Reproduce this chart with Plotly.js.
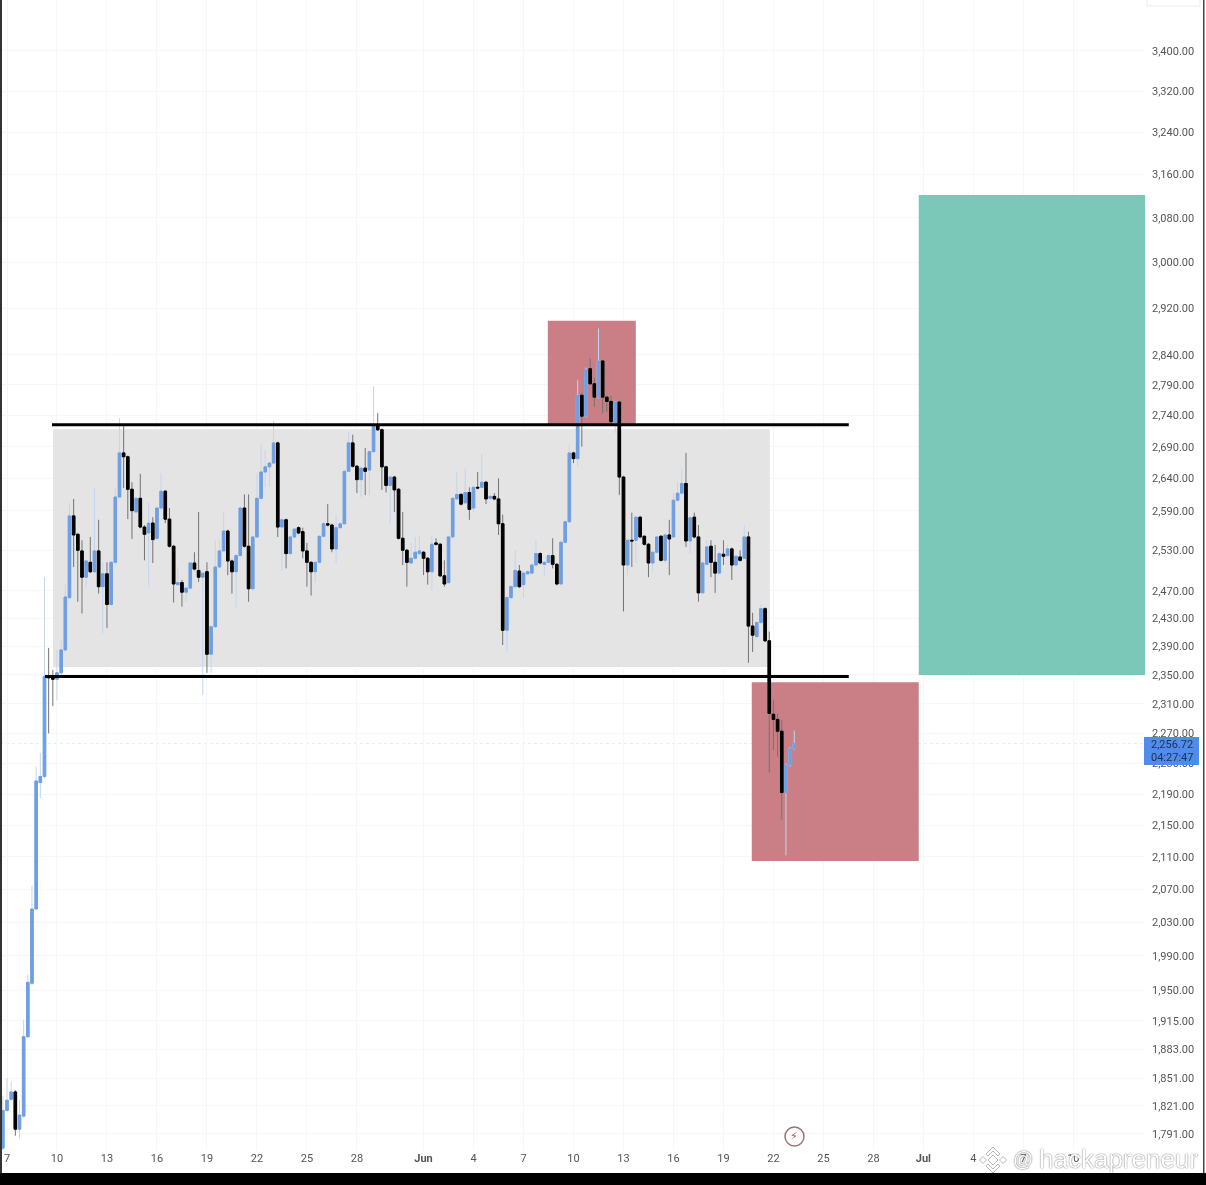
<!DOCTYPE html>
<html><head><meta charset="utf-8">
<script src="https://cdn.plot.ly/plotly-3.0.1.min.js"></script>
<style>
html,body{margin:0;padding:0;background:#000;width:1206px;height:1185px;overflow:hidden}
#chart{position:absolute;left:0;top:0;width:1206px;height:1173px;background:#fff;filter:blur(0.6px)}
</style></head><body><div id="chart"></div>
<script>
const firstCandle = Date.UTC(2025,4,6,18);
const stepHours = 6;

const opens = [
1776,1816,1828,1836,1796,1810,1897,1958,2046,2205,
2213,2348,2347,2344,2353,2385,2460,2582,2554,2529,
2490,2512,2498,2529,2476,2495,2450,2512,2611,2680,
2674,2623,2588,2609,2565,2556,2571,2548,2594,2620,
2577,2536,2479,2482,2468,2474,2511,2500,2490,2498,
2379,2418,2505,2529,2559,2514,2498,2522,2594,2536,
2473,2550,2609,2650,2658,2664,2696,2565,2576,2525,
2550,2564,2558,2529,2512,2498,2512,2551,2570,2568,
2532,2564,2570,2651,2696,2659,2638,2656,2653,2682,
2725,2717,2658,2629,2642,2623,2548,2530,2511,2518,
2525,2527,2518,2498,2541,2539,2492,2482,2550,2608,
2615,2602,2618,2594,2626,2626,2634,2609,2612,2608,
2570,2413,2460,2476,2499,2479,2495,2496,2508,2525,
2509,2512,2522,2509,2480,2542,2573,2680,2671,2773,
2739,2817,2792,2770,2830,2770,2763,2728,2762,2642,
2508,2545,2545,2580,2551,2539,2511,2527,2551,2515,
2553,2550,2606,2617,2632,2544,2580,2550,2467,2509,
2536,2512,2496,2524,2522,2532,2508,2520,2518,2550,
2419,2404,2424,2444,2398,2296,2289,2273,2192,2228,2250];

const closes = [
1816,1827,1836,1796,1811,1897,1959,2046,2207,2213,
2348,2346,2344,2353,2385,2461,2582,2553,2530,2490,
2514,2498,2529,2476,2495,2450,2512,2611,2680,2674,
2623,2590,2609,2565,2554,2571,2546,2594,2620,2577,
2536,2480,2482,2468,2474,2511,2502,2490,2496,2379,
2418,2505,2529,2559,2514,2498,2522,2594,2536,2473,
2550,2609,2650,2658,2664,2696,2565,2576,2525,2550,
2562,2556,2529,2512,2498,2512,2551,2570,2568,2532,
2564,2570,2651,2696,2659,2638,2656,2651,2682,2725,
2717,2658,2629,2642,2622,2548,2530,2512,2518,2527,
2529,2518,2498,2539,2539,2492,2480,2550,2609,2615,
2600,2618,2592,2626,2625,2634,2608,2612,2608,2570,
2413,2460,2476,2500,2476,2496,2498,2508,2525,2511,
2512,2522,2509,2480,2542,2573,2680,2671,2773,2739,
2815,2792,2770,2830,2770,2763,2730,2762,2642,2508,
2545,2544,2580,2550,2539,2511,2527,2550,2515,2553,
2547,2606,2617,2632,2544,2579,2550,2467,2511,2535,
2512,2496,2525,2521,2532,2508,2521,2515,2550,2419,
2406,2424,2444,2398,2297,2289,2273,2192,2228,2250,2256.72];

const highs = [
1832,1851,1847,1838,1827,1916,1968,2074,2226,2244,
2490,2388,2357,2385,2399,2479,2602,2608,2556,2545,
2516,2550,2625,2576,2512,2512,2514,2625,2736,2725,
2676,2634,2611,2647,2568,2603,2580,2596,2648,2622,
2594,2538,2505,2486,2476,2512,2527,2588,2498,2512,
2420,2545,2545,2588,2561,2516,2524,2596,2615,2615,
2552,2648,2693,2685,2666,2731,2698,2578,2578,2552,
2564,2566,2564,2541,2514,2514,2553,2573,2600,2570,
2584,2572,2653,2714,2709,2661,2658,2688,2684,2788,
2744,2719,2660,2644,2644,2625,2588,2532,2541,2550,
2550,2529,2520,2553,2548,2541,2515,2552,2611,2650,
2617,2656,2626,2628,2650,2679,2636,2614,2617,2640,
2584,2462,2478,2530,2508,2498,2500,2510,2545,2527,
2514,2524,2548,2511,2544,2575,2693,2682,2798,2777,
2819,2834,2802,2885,2832,2772,2772,2764,2764,2644,
2547,2587,2582,2582,2553,2541,2529,2552,2553,2555,
2576,2618,2634,2656,2680,2581,2587,2568,2513,2545,
2545,2538,2527,2545,2538,2534,2523,2530,2568,2558,
2438,2426,2450,2446,2411,2315,2297,2288,2230,2252,2274];

const lows = [
1774,1814,1826,1789,1786,1808,1895,1956,2046,2185,
2210,2270,2307,2315,2347,2383,2458,2505,2454,2437,
2474,2496,2496,2466,2409,2416,2448,2510,2609,2625,
2577,2547,2586,2563,2515,2476,2511,2546,2592,2571,
2534,2453,2477,2447,2454,2472,2500,2483,2322,2353,
2353,2416,2503,2527,2493,2466,2445,2520,2534,2454,
2471,2548,2607,2626,2628,2662,2550,2500,2503,2523,
2548,2554,2518,2476,2463,2482,2510,2549,2566,2527,
2511,2562,2568,2649,2657,2617,2611,2614,2614,2680,
2715,2622,2618,2571,2588,2546,2508,2476,2509,2516,
2523,2493,2479,2471,2537,2490,2476,2480,2548,2604,
2598,2600,2576,2588,2623,2624,2600,2607,2606,2553,
2392,2382,2458,2474,2474,2460,2493,2494,2506,2509,
2493,2510,2503,2478,2478,2540,2571,2664,2658,2690,
2737,2790,2754,2768,2744,2746,2725,2712,2614,2440,
2493,2505,2511,2548,2537,2490,2498,2525,2513,2511,
2493,2548,2604,2615,2535,2525,2548,2454,2465,2507,
2490,2467,2494,2508,2520,2486,2506,2513,2516,2367,
2382,2402,2422,2396,2218,2248,2239,2157,2112,2226,2248];

const priceTicks = [3400,3320,3240,3160,3080,3000,2920,2840,2790,2740,2690,2640,2590,2530,2470,2430,2390,2350,2310,2270,2230,2190,2150,2110,2070,2030,1990,1950,1915,1883,1851,1821,1791];
const dateTicks = ['2025-05-07','2025-05-10','2025-05-13','2025-05-16','2025-05-19','2025-05-22','2025-05-25','2025-05-28','2025-06-01','2025-06-04','2025-06-07','2025-06-10','2025-06-13','2025-06-16','2025-06-19','2025-06-22','2025-06-25','2025-06-28','2025-07-01','2025-07-04','2025-07-07','2025-07-10'];
const dateTickLabels = ['7','10','13','16','19','22','25','28','<b>Jun</b>','4','7','10','13','16','19','22','25','28','<b>Jul</b>','4','7','10'];
const lastPriceLabel = '2,256.72';
const countdownLabel = '04:27:47';
const watermarkText = 'hackapreneur';

const times = opens.map((_, i) => new Date(firstCandle + i*stepHours*3600000).toISOString());
const fmt = v => v.toLocaleString('en-US',{minimumFractionDigits:2,maximumFractionDigits:2});

const BLUE='#6e9fe2', BLUEW='#c3d5f1', BLACK='#000000', BLACKW='#737373';
const W=1206, H=1173, PW=1145, PH=1150;
const px = x => x/PW, py = y => (PH-y)/PH;

const wicks = {type:'candlestick',x:times,open:opens,high:highs,low:lows,close:closes,whiskerwidth:0,
  increasing:{line:{color:BLUEW,width:1},fillcolor:BLUEW},decreasing:{line:{color:BLACKW,width:1},fillcolor:BLACKW},hoverinfo:'skip',showlegend:false};
const bodies = {type:'candlestick',x:times,open:opens,close:closes,
  high:opens.map((o,i)=>Math.max(o,closes[i])),low:opens.map((o,i)=>Math.min(o,closes[i])),whiskerwidth:0,
  increasing:{line:{color:BLUE,width:1},fillcolor:BLUE},decreasing:{line:{color:BLACK,width:1},fillcolor:BLACK},hoverinfo:'skip',showlegend:false};

const zone=(x0,x1,y0,y1,c)=>({type:'rect',xref:'x',yref:'y',x0,x1,y0,y1,fillcolor:c,line:{width:0},layer:'between'});
const level=(x0,x1,y)=>({type:'line',xref:'x',yref:'y',x0,x1,y0:y,y1:y,line:{color:'#000',width:3},layer:'above'});
const poly=(pts,fill)=>({type:'path',xref:'paper',yref:'paper',path:'M'+pts.map(p=>px(p[0])+' '+py(p[1])).join(' L')+' Z',fillcolor:fill||'#fff',line:{color:'#b9b9b9',width:1},layer:'above'});
const diamond=(cx,cy,r)=>poly([[cx,cy-r],[cx+r,cy],[cx,cy+r],[cx-r,cy]]);
const LX=993, LY=1160;

const shapes=[
 zone('2025-05-09 18:14','2025-06-21 18:43',2361,2718,'#e4e4e4'),
 zone('2025-06-08 11:00','2025-06-13 17:45',2726,2898,'#c97f85'),
 zone('2025-06-20 16:48','2025-06-30 17:17',2105,2340,'#c97f85'),
 zone('2025-06-30 17:17','2025-07-14 07:12',2350,3122,'#7bc8b8'),
 level('2025-05-09 16:48','2025-06-26 12:30',2725),
 level('2025-05-09 06:43','2025-06-26 12:30',2348),
 {type:'line',xref:'paper',yref:'y',x0:0,x1:1,y0:2256.72,y1:2256.72,line:{color:'#e4ebf6',width:1,dash:'dot'},layer:'between'},
 {type:'rect',xref:'paper',yref:'paper',x0:px(1144),x1:px(1199),y0:py(765),y1:py(737),fillcolor:'rgba(73,135,235,0.96)',line:{width:0},layer:'above'},
 {type:'rect',xref:'paper',yref:'paper',x0:px(0),x1:px(2),y0:py(1173),y1:py(0),fillcolor:'#333',line:{width:0},layer:'above'},
 {type:'rect',xref:'paper',yref:'paper',x0:px(1203),x1:px(1204.5),y0:py(1173),y1:py(0),fillcolor:'#444',line:{width:0},layer:'above'},
 {type:'rect',xref:'paper',yref:'paper',x0:px(1147),x1:px(1200),y0:py(6),y1:py(-2),fillcolor:'rgba(0,0,0,0)',line:{color:'#ececec',width:1},layer:'above'},
 {type:'circle',xref:'paper',yref:'paper',x0:px(785),x1:px(804),y0:py(1146),y1:py(1127),fillcolor:'#fff',line:{color:'#9a7377',width:1.5},layer:'above'},
 diamond(LX,LY,5), diamond(LX-10,LY,3.5), diamond(LX+10,LY,3.5),
 poly([[LX,LY-13],[LX+7,LY-6],[LX+5,LY-4],[LX,LY-9],[LX-5,LY-4],[LX-7,LY-6]]),
 poly([[LX,LY+13],[LX+7,LY+6],[LX+5,LY+4],[LX,LY+9],[LX-5,LY+4],[LX-7,LY+6]])
];

const ann=(x,y,text,size,color,extra)=>Object.assign({xref:'paper',yref:'paper',x:px(x),y:py(y),text,showarrow:false,
  font:{family:'Roboto, "Liberation Sans", sans-serif',size,color},xanchor:'center',yanchor:'middle'},extra||{});

const annotations=[
 ann(1172,744.5,lastPriceLabel,11,'#20324f'),
 ann(1172,757,countdownLabel,11,'#20324f'),
 ann(794,1136,'⚡\uFE0E',11,'#c0505a',{font:{family:'"DejaVu Sans"',size:11,color:'#c0505a'}}),
 ann(1023,1159,'@',20,'#fff',{font:{family:'"Liberation Sans"',size:20,color:'#ffffff',shadow:'0 0 1.5px #333'}}),
 ann(1118,1159,watermarkText,26,'#fff',{font:{family:'"Liberation Sans"',size:26,color:'#ffffff',shadow:'0 0 1.2px #333'}})
];

const layout={
 width:W,height:H,margin:{l:0,r:W-PW,t:0,b:H-PH,pad:0},paper_bgcolor:'#fff',plot_bgcolor:'#fff',showlegend:false,boxgap:0.12,
 font:{family:'Roboto, "Liberation Sans", sans-serif',size:11,color:'#555'},
 xaxis:{type:'date',range:['2025-05-06 13:55','2025-07-14 07:12'],rangeslider:{visible:false},tickmode:'array',tickvals:dateTicks,ticktext:dateTickLabels,
   showgrid:true,gridcolor:'#f6f7f9',gridwidth:1,zeroline:false,showline:false,ticks:'',tickfont:{size:11,color:'#555'},automargin:false},
 yaxis:{type:'log',side:'right',range:[Math.log10(1774),Math.log10(3504)],tickmode:'array',tickvals:priceTicks,ticktext:priceTicks.map(fmt),
   showgrid:true,gridcolor:'#f6f7f9',gridwidth:1,zeroline:false,showline:false,ticks:'',ticklabelstandoff:6,tickfont:{size:11,color:'#555'},automargin:false},
 shapes,annotations
};
Plotly.newPlot('chart',[wicks,bodies],layout,{displayModeBar:false,staticPlot:true});
</script></body></html>
